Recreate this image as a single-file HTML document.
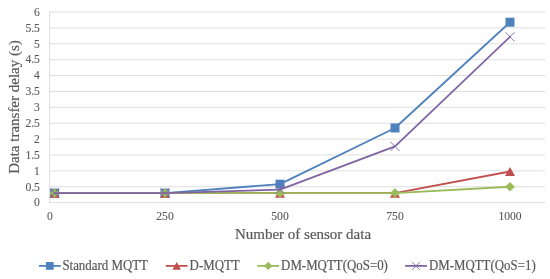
<!DOCTYPE html>
<html><head><meta charset="utf-8"><style>
html,body{margin:0;padding:0;background:#fff;}
body{width:550px;height:279px;overflow:hidden;}
svg{display:block;}
text{font-family:"Liberation Serif","Times New Roman",serif;fill:#595959;stroke:#595959;stroke-width:0.3px;}
.tk{font-size:11.6px;stroke-width:0.1px;}
.ti{font-size:15px;stroke-width:0.2px;}
.lg{font-size:12.9px;stroke-width:0.18px;}
</style></head><body>
<svg width="550" height="279" viewBox="0 0 550 279">
<line x1="50" x2="545" y1="186.72" y2="186.72" stroke="#dedede" stroke-width="1"/>
<line x1="50" x2="545" y1="170.84" y2="170.84" stroke="#dedede" stroke-width="1"/>
<line x1="50" x2="545" y1="154.96" y2="154.96" stroke="#dedede" stroke-width="1"/>
<line x1="50" x2="545" y1="139.08" y2="139.08" stroke="#dedede" stroke-width="1"/>
<line x1="50" x2="545" y1="123.20" y2="123.20" stroke="#dedede" stroke-width="1"/>
<line x1="50" x2="545" y1="107.32" y2="107.32" stroke="#dedede" stroke-width="1"/>
<line x1="50" x2="545" y1="91.44" y2="91.44" stroke="#dedede" stroke-width="1"/>
<line x1="50" x2="545" y1="75.56" y2="75.56" stroke="#dedede" stroke-width="1"/>
<line x1="50" x2="545" y1="59.68" y2="59.68" stroke="#dedede" stroke-width="1"/>
<line x1="50" x2="545" y1="43.80" y2="43.80" stroke="#dedede" stroke-width="1"/>
<line x1="50" x2="545" y1="27.92" y2="27.92" stroke="#dedede" stroke-width="1"/>
<line x1="50" x2="545" y1="12.04" y2="12.04" stroke="#dedede" stroke-width="1"/>
<line x1="49.5" x2="545" y1="202.60" y2="202.60" stroke="#dedede" stroke-width="1"/>
<line x1="49.6" x2="49.6" y1="11.54" y2="203.10" stroke="#dedede" stroke-width="1"/>
<text x="39.9" y="206.40" text-anchor="end" class="tk">0</text>
<text x="39.9" y="190.52" text-anchor="end" class="tk">0.5</text>
<text x="39.9" y="174.64" text-anchor="end" class="tk">1</text>
<text x="39.9" y="158.76" text-anchor="end" class="tk">1.5</text>
<text x="39.9" y="142.88" text-anchor="end" class="tk">2</text>
<text x="39.9" y="127.00" text-anchor="end" class="tk">2.5</text>
<text x="39.9" y="111.12" text-anchor="end" class="tk">3</text>
<text x="39.9" y="95.24" text-anchor="end" class="tk">3.5</text>
<text x="39.9" y="79.36" text-anchor="end" class="tk">4</text>
<text x="39.9" y="63.48" text-anchor="end" class="tk">4.5</text>
<text x="39.9" y="47.60" text-anchor="end" class="tk">5</text>
<text x="39.9" y="31.72" text-anchor="end" class="tk">5.5</text>
<text x="39.9" y="15.84" text-anchor="end" class="tk">6</text>
<text x="50.00" y="219.5" text-anchor="middle" class="tk">0</text>
<text x="165.00" y="219.5" text-anchor="middle" class="tk">250</text>
<text x="280.00" y="219.5" text-anchor="middle" class="tk">500</text>
<text x="395.00" y="219.5" text-anchor="middle" class="tk">750</text>
<text x="510.00" y="219.5" text-anchor="middle" class="tk">1000</text>
<polyline points="54.60,193.07 165.00,193.07 280.00,184.18 395.00,127.96 510.00,22.20" fill="none" stroke="#4f81bd" stroke-width="1.85" stroke-linejoin="round" stroke-linecap="round"/>
<rect x="50.10" y="188.57" width="9.0" height="9.0" fill="#4f81bd"/>
<rect x="160.50" y="188.57" width="9.0" height="9.0" fill="#4f81bd"/>
<rect x="275.50" y="179.68" width="9.0" height="9.0" fill="#4f81bd"/>
<rect x="390.50" y="123.46" width="9.0" height="9.0" fill="#4f81bd"/>
<rect x="505.50" y="17.70" width="9.0" height="9.0" fill="#4f81bd"/>
<polyline points="54.60,193.07 165.00,193.07 280.00,193.07 395.00,193.07 510.00,171.48" fill="none" stroke="#c0504d" stroke-width="1.85" stroke-linejoin="round" stroke-linecap="round"/>
<polygon points="54.60,188.47 59.60,197.67 49.60,197.67" fill="#c0504d"/>
<polygon points="165.00,188.47 170.00,197.67 160.00,197.67" fill="#c0504d"/>
<polygon points="280.00,188.47 285.00,197.67 275.00,197.67" fill="#c0504d"/>
<polygon points="395.00,188.47 400.00,197.67 390.00,197.67" fill="#c0504d"/>
<polygon points="510.00,166.88 515.00,176.08 505.00,176.08" fill="#c0504d"/>
<polyline points="54.60,193.07 165.00,193.07 280.00,193.07 395.00,193.07 510.00,186.72" fill="none" stroke="#9bbb59" stroke-width="1.85" stroke-linejoin="round" stroke-linecap="round"/>
<polygon points="54.60,188.27 59.40,193.07 54.60,197.87 49.80,193.07" fill="#9bbb59"/>
<polygon points="165.00,188.27 169.80,193.07 165.00,197.87 160.20,193.07" fill="#9bbb59"/>
<polygon points="280.00,188.27 284.80,193.07 280.00,197.87 275.20,193.07" fill="#9bbb59"/>
<polygon points="395.00,188.27 399.80,193.07 395.00,197.87 390.20,193.07" fill="#9bbb59"/>
<polygon points="510.00,181.92 514.80,186.72 510.00,191.52 505.20,186.72" fill="#9bbb59"/>
<polyline points="54.60,193.07 165.00,193.07 280.00,189.58 395.00,146.38 510.00,36.81" fill="none" stroke="#8064a2" stroke-width="1.85" stroke-linejoin="round" stroke-linecap="round"/>
<path d="M50.00,188.47L59.20,197.67M59.20,188.47L50.00,197.67" stroke="#8064a2" stroke-width="0.9" fill="none"/>
<path d="M160.40,188.47L169.60,197.67M169.60,188.47L160.40,197.67" stroke="#8064a2" stroke-width="0.9" fill="none"/>
<path d="M275.40,184.98L284.60,194.18M284.60,184.98L275.40,194.18" stroke="#8064a2" stroke-width="0.9" fill="none"/>
<path d="M390.40,141.78L399.60,150.98M399.60,141.78L390.40,150.98" stroke="#8064a2" stroke-width="0.9" fill="none"/>
<path d="M505.40,32.21L514.60,41.41M514.60,32.21L505.40,41.41" stroke="#8064a2" stroke-width="0.9" fill="none"/>
<text x="303" y="238.8" text-anchor="middle" class="ti">Number of sensor data</text>
<text transform="translate(18.7,107) rotate(-90)" x="0" y="0" text-anchor="middle" class="ti">Data transfer delay (s)</text>
<line x1="38.9" x2="60.7" y1="265.9" y2="265.9" stroke="#4f81bd" stroke-width="1.8"/>
<rect x="45.93" y="262.03" width="7.74" height="7.74" fill="#4f81bd"/>
<text transform="translate(62.4,269.60) scale(1,1.06)" class="lg">Standard MQTT</text>
<line x1="165.8" x2="187.60000000000002" y1="265.9" y2="265.9" stroke="#c0504d" stroke-width="1.8"/>
<polygon points="176.70,261.94 181.00,269.86 172.40,269.86" fill="#c0504d"/>
<text transform="translate(189.6,269.60) scale(1,1.06)" class="lg">D-MQTT</text>
<line x1="257.3" x2="279.1" y1="265.9" y2="265.9" stroke="#9bbb59" stroke-width="1.8"/>
<polygon points="268.20,261.77 272.33,265.90 268.20,270.03 264.07,265.90" fill="#9bbb59"/>
<text transform="translate(281.1,269.60) scale(1,1.06)" class="lg">DM-MQTT(QoS=0)</text>
<line x1="405.1" x2="426.90000000000003" y1="265.9" y2="265.9" stroke="#8064a2" stroke-width="1.8"/>
<path d="M412.04,261.94L419.96,269.86M419.96,261.94L412.04,269.86" stroke="#8064a2" stroke-width="0.9" fill="none"/>
<text transform="translate(428.9,269.60) scale(1,1.06)" class="lg">DM-MQTT(QoS=1)</text>
</svg>
</body></html>
